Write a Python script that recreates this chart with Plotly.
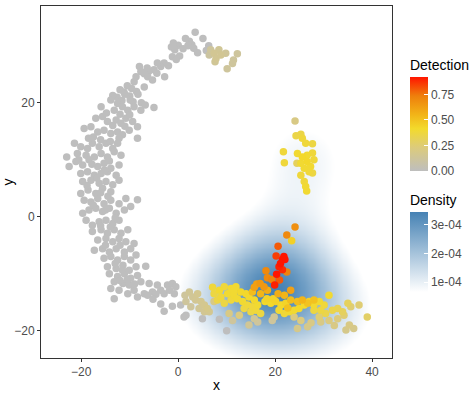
import numpy as np
import plotly.graph_objects as go

# ---------------- data ----------------
# grey arc: detection = 0 for the whole group
ARC_DETECTION = 0.0
arc_xy = [
    (3.5,32.4),(5.1,31.3),(2.3,30.8),(2.8,30.2),(3.2,29.6),(2.0,30.0),(4.0,28.8),(0.0,30.1),(-1.4,29.8),(-0.7,29.3),
    (-1.2,28.1),(0.3,28.2),(-0.4,27.6),(6.3,30.0),(5.8,29.2),
    (-2.9,27.0),(-3.6,26.4),(-4.3,27.0),(-2.8,24.6),(-5.0,25.8),(-6.1,25.5),(-6.4,26.1),(-7.0,25.1),(-8.0,26.4),
    (-7.7,25.5),(-8.7,24.6),(-9.1,23.7),(-6.3,24.6),(-5.3,24.0),
    (-9.6,22.5),(-10.5,23.0),(-8.6,22.0),(-11.2,21.9),(-12.0,22.3),(-10.0,21.2),(-8.3,21.5),(-7.6,20.0),(-12.6,21.0),
    (-11.6,20.4),(-9.3,20.2),(-13.5,21.3),(-5.0,19.2),(-6.8,19.6),
    (-15.9,19.3),(-13.9,20.5),(-12.5,19.9),(-13.2,18.7),(-11.5,19.3),(-10.4,18.7),(-9.1,19.3),(-7.7,18.7),(-17.0,17.3),
    (-15.6,17.6),(-14.6,16.7),(-12.8,17.0),(-11.8,16.4),(-10.8,17.3),(-9.4,16.7),(-8.4,15.8),(-19.4,15.5),(-18.0,15.8),
    (-16.6,14.9),(-15.3,15.2),(-13.9,14.6),(-12.5,14.9),(-11.5,14.4),(-10.1,15.2),(-8.4,13.8),(-12.2,13.8),
    (-21.4,12.9),(-20.1,12.3),(-18.7,12.0),(-17.7,12.9),(-16.3,12.3),(-14.9,12.9),(-13.5,12.0),(-12.5,12.9),(-20.8,11.1),
    (-19.0,10.8),(-17.3,10.5),(-15.9,11.1),(-14.6,10.5),(-13.2,11.4),(-11.8,10.8),(-23.0,10.5),(-22.5,8.8),(-21.1,9.7),
    (-19.7,9.1),(-18.4,10.0),(-16.6,8.8),(-15.3,9.4),(-13.9,8.5),(-12.2,9.1),
    (-20.1,7.6),(-18.7,7.9),(-17.3,7.3),(-15.9,7.6),(-14.6,7.9),(-12.8,7.3),(-19.7,6.2),(-18.0,6.4),(-16.3,5.9),(-14.9,6.2),
    (-13.5,5.6),(-12.2,6.4),(-20.1,4.1),(-18.6,4.7),(-17.0,4.1),(-15.6,5.0),(-13.9,4.4),(-8.4,3.0),
    (-19.4,2.9),(-18.0,2.6),(-16.6,3.2),(-15.3,2.3),(-13.9,2.9),(-12.2,2.3),(-10.8,3.2),(-19.7,0.6),(-18.4,1.2),(-17.0,1.5),
    (-15.6,0.9),(-14.2,1.5),(-12.8,0.6),(-11.1,1.2),(-9.8,1.8),
    (-19.0,-0.6),(-17.7,-1.5),(-16.3,-0.9),(-14.9,-0.6),(-13.5,-1.2),(-12.2,-0.6),(-17.7,-2.6),(-15.9,-2.3),(-14.6,-2.9),
    (-13.2,-2.3),(-11.8,-2.9),(-10.4,-2.3),(-16.6,-4.1),(-14.9,-3.8),(-13.5,-4.4),(-12.2,-3.8),(-10.8,-4.4),
    (-17.3,-5.9),(-15.6,-5.6),(-14.2,-6.2),(-12.8,-5.6),(-11.1,-6.2),(-9.8,-5.6),(-9.1,-4.7),(-15.3,-7.3),(-13.9,-7.0),
    (-12.5,-7.6),(-11.1,-7.0),(-9.8,-7.6),(-8.7,-6.7),(-14.6,-8.8),(-12.8,-9.1),(-11.4,-8.5),(-10.1,-9.4),(-8.7,-8.8),(-6.7,-8.7),
    (-14.2,-10.0),(-12.5,-10.5),(-11.1,-10.0),(-9.8,-10.8),(-8.4,-10.3),(-13.2,-11.4),(-11.4,-11.7),(-10.1,-12.0),(-7.7,-11.4),
    (-6.0,-11.7),(-4.3,-12.0),(-13.9,-12.6),(-12.2,-12.9),(-10.4,-13.5),(-9.1,-12.9),(-7.0,-13.5),(-5.3,-13.2),(-3.6,-12.9),
    (-2.2,-12.0),(-1.2,-11.7),(-0.5,-12.3),(-13.2,-14.4),(-8.4,-14.1),(-6.3,-13.8),(-4.6,-13.6),(-2.9,-13.5),(-0.8,-13.5),(-1.8,-12.9),
    (-3.6,-15.3),(-1.2,-15.7),(0.5,-15.5),(-2.9,-16.6),(1.2,-17.6),(1.6,-17.3),(5.0,-17.9),(8.5,-18.0),(10.0,-20.0),(-5.2,-14.5),
    (-17.5,14.0),(-16.0,13.5),(-14.0,13.2),(-18.5,13.8),(-20.5,10.0),(-17.8,9.2),(-14.2,9.8),(-16.8,6.8),(-15.2,8.2),(-18.8,5.5),
    (-16.0,4.2),(-14.5,3.6),(-17.5,2.0),(-15.0,1.2),(-13.0,-0.2),(-16.0,-1.6),(-14.0,-1.8),(-15.0,-5.0),(-12.0,-5.0),(-13.0,-8.2),
    (-11.5,-9.4),(-10.5,-11.0),(-12.0,-11.2),(-9.0,-11.8),(-14.8,18.2),(-12.0,18.0),(-10.0,17.9),(-13.5,16.0),(-11.0,15.9),
    (-9.9,20.5),(-11.0,21.5),(-7.0,22.8),(-4.4,25.2),(-2.0,26.5),(-1.0,30.5),(1.0,29.5),(1.5,31.3),
]

# (x, y, detection)
top_cluster = [
    (6.7,29.3,0.12),(7.4,28.7,0.15),(7.8,27.8,0.15),(8.8,28.4,0.15),(9.8,28.7,0.13),(11.4,27.5,0.12),
    (12.2,28.6,0.12),(10.1,26.0,0.12),(6.4,28.4,0.10),(8.4,29.3,0.14),(7.6,27.2,0.14),(11.2,26.9,0.12),
]
right_cluster = [
    (24.1,16.8,0.20),(24.3,14.2,0.35),(25.3,14.5,0.35),(25.6,13.8,0.38),(26.3,12.9,0.38),(27.7,12.8,0.36),
    (21.7,11.4,0.38),(21.9,9.5,0.38),(24.6,11.1,0.40),(25.6,10.5,0.42),(26.6,10.8,0.40),(27.7,11.2,0.38),
    (25.3,9.4,0.40),(26.6,9.7,0.42),(28.0,10.0,0.38),(26.0,8.5,0.40),(27.0,7.9,0.38),(27.7,7.7,0.36),
    (25.3,7.3,0.38),(26.0,6.2,0.38),(26.3,5.3,0.40),(26.5,4.5,0.40),(24.5,9.4,0.30),(27.3,8.8,0.40),
]
streak = [
    (24.1,-1.8,0.68),(22.4,-3.2,0.70),(23.4,-4.2,0.45),(20.6,-5.2,0.80),(20.2,-6.9,0.85),(21.5,-7.5,0.92),
    (22.0,-7.5,0.92),(21.1,-8.2,0.92),(21.5,-9.3,0.88),(22.4,-9.7,0.72),(20.3,-10.1,0.92),(19.9,-12.0,0.90),
    (18.1,-9.5,0.70),(18.4,-10.7,0.70),(19.3,-11.0,0.72),(16.9,-11.7,0.65),(16.2,-11.8,0.62),(15.7,-12.4,0.62),
    (17.7,-12.3,0.65),(23.2,-12.9,0.62),(20.9,-11.1,0.80),(21.8,-7.0,0.92),(20.8,-8.8,0.90),
]
bottom_tan = [
    (1.4,-13.8,0.12),(2.3,-13.2,0.14),(3.0,-14.1,0.14),(4.0,-13.5,0.16),(3.6,-14.6,0.15),(4.7,-14.9,0.16),
    (5.4,-15.5,0.16),(6.0,-16.1,0.18),(4.3,-16.1,0.14),(6.4,-16.7,0.16),(5.4,-16.7,0.15),(2.6,-15.8,0.12),
    (1.6,-14.9,0.12),(7.4,-14.9,0.20),(10.5,-17.0,0.20),(11.2,-18.2,0.12),(16.4,-18.5,0.12),(15.7,-17.9,0.14),
    (19.4,-18.2,0.12),(19.8,-17.6,0.14),(24.6,-19.6,0.18),(26.7,-19.3,0.18),(27.4,-18.6,0.20),(29.4,-18.5,0.20),
    (31.1,-18.2,0.22),(32.2,-19.1,0.20),(34.6,-19.9,0.18),(35.3,-19.0,0.20),(36.2,-19.6,0.18),(35.6,-15.8,0.25),
    (37.3,-15.5,0.25),(39.0,-17.6,0.28),(34.2,-17.3,0.25),(32.9,-17.9,0.22),(29.1,-17.6,0.25),(23.9,-17.6,0.22),
    (25.3,-18.2,0.22),(14.6,-19.0,0.14),(12.6,-17.3,0.22),
]
bottom_yellow = [
    (7.1,-12.4,0.38),(8.5,-12.9,0.40),(9.5,-12.3,0.38),(10.9,-12.6,0.40),(11.9,-12.3,0.40),(7.4,-13.5,0.36),
    (8.8,-14.1,0.38),(10.2,-13.5,0.40),(11.5,-13.8,0.40),(12.9,-13.2,0.42),(14.0,-13.5,0.42),(8.1,-14.6,0.35),
    (9.5,-15.2,0.36),(10.9,-14.6,0.38),(12.2,-14.4,0.40),(13.3,-14.9,0.40),(14.3,-15.5,0.38),(15.3,-15.8,0.38),
    (16.4,-15.5,0.40),(15.0,-16.7,0.36),(16.0,-16.4,0.38),(17.0,-17.0,0.36),(13.6,-16.1,0.36),(17.9,-14.9,0.42),
    (19.1,-15.2,0.42),(20.1,-14.9,0.44),(21.2,-15.5,0.42),(22.2,-15.2,0.44),(20.8,-16.4,0.40),(21.9,-17.0,0.38),
    (22.9,-16.7,0.40),(23.9,-16.4,0.40),(24.9,-16.1,0.42),(26.0,-15.5,0.42),(27.0,-14.9,0.44),(28.0,-15.5,0.40),
    (29.1,-14.9,0.40),(30.1,-15.5,0.38),(31.1,-13.8,0.40),(28.0,-16.4,0.36),(29.4,-16.4,0.36),(30.4,-17.0,0.34),
    (31.8,-16.4,0.34),(32.9,-16.1,0.32),(33.9,-16.7,0.30),(35.0,-15.2,0.30),(18.3,-14.4,0.44),(19.6,-14.4,0.44),
    (15.7,-14.6,0.42),(11.5,-12.9,0.40),(14.6,-14.1,0.42),
]
bottom_orange = [
    (21.9,-13.8,0.55),(23.2,-14.6,0.52),(24.6,-14.9,0.52),(25.6,-14.6,0.55),(26.7,-15.2,0.50),(22.6,-16.0,0.50),
    (18.4,-12.9,0.58),(17.0,-13.5,0.55),(15.3,-13.2,0.52),(28.0,-14.6,0.50),(20.6,-13.5,0.58),
]

# colour scale anchors and axis / colourbar ticks
detection_colors = [[0.0, "#BEBEBE"], [0.25, "#DCCB7C"], [0.45, "#F3DA2C"], [0.6, "#F2B418"],
                    [0.8, "#EE7F0C"], [1.0, "#FF1500"]]
density_colors = [[0.0, "#FFFFFF"], [1.0, "#4682B4"]]
DENSITY_MIN = 0.65e-4   # bottom of the Density colour bar
DENSITY_MAX = 3.45e-4   # top of the Density colour bar
DETECTION_MAX = 0.92
x_ticks = [-20, 0, 20, 40]
y_ticks = [-20, 0, 20]
det_ticks = [0.0, 0.25, 0.5, 0.75]
det_ticktext = ["0.00", "0.25", "0.50", "0.75"]
dens_ticks = [1e-4, 2e-4, 3e-4]
dens_ticktext = ["1e-04", "2e-04", "3e-04"]

# ---------------- assemble ----------------
pts = [(x, y, ARC_DETECTION) for x, y in arc_xy]
for grp in (top_cluster, right_cluster, streak, bottom_tan, bottom_yellow, bottom_orange):
    pts += grp
pts = sorted(pts, key=lambda p: p[2])
px = np.array([p[0] for p in pts])
py = np.array([p[1] for p in pts])
pdet = np.array([p[2] for p in pts])

XR = [-28.3, 44.1]
YR = [-24.8, 37.0]

# detection-weighted kernel density, rescaled to the colour-bar range of the reference
gx = np.linspace(XR[0], XR[1], 160)
gy = np.linspace(YR[0], YR[1], 140)
GX, GY = np.meshgrid(gx, gy)
sx, sy = 8.0, 6.5
dens = np.zeros_like(GX)
for xk, yk, wk in zip(px, py, pdet):
    if wk > 0:
        dens += wk * np.exp(-((GX - xk) ** 2 / (2 * sx ** 2) + (GY - yk) ** 2 / (2 * sy ** 2)))
dens = dens / dens.max() * DENSITY_MAX

font_family = "Arial, Liberation Sans, sans-serif"
plot_top, plot_bottom = 6, 358
plot_h = plot_bottom - plot_top

def py2paper(pix):
    return 1 - (pix - plot_top) / plot_h

fig = go.Figure()
fig.add_trace(go.Heatmap(
    x=gx, y=gy, z=dens, zmin=DENSITY_MIN, zmax=DENSITY_MAX, colorscale=density_colors, zsmooth="best",
    hoverinfo="skip",
    colorbar=dict(
        title=dict(text="Density", side="top", font=dict(size=14, color="black", family=font_family)),
        x=1.051, xanchor="left", xpad=0, y=py2paper(191), yanchor="top", ypad=0,
        lenmode="pixels", len=101, thickness=18, outlinewidth=0,
        tickvals=dens_ticks, ticktext=dens_ticktext, ticks="inside", tickcolor="white", ticklen=4,
        tickfont=dict(size=12, color="#4D4D4D", family=font_family),
    ),
))
fig.add_trace(go.Scatter(
    x=px, y=py, mode="markers", hoverinfo="skip",
    marker=dict(size=7.5, color=pdet, cmin=0, cmax=DETECTION_MAX, colorscale=detection_colors,
                line=dict(width=0),
                colorbar=dict(
                    title=dict(text="Detection", side="top", font=dict(size=14, color="black", family=font_family)),
                    x=1.051, xanchor="left", xpad=0, y=py2paper(56), yanchor="top", ypad=0,
                    lenmode="pixels", len=115, thickness=18, outlinewidth=0,
                    tickvals=det_ticks, ticktext=det_ticktext,
                    ticks="inside", tickcolor="white", ticklen=4,
                    tickfont=dict(size=12, color="#4D4D4D", family=font_family),
                )),
    showlegend=False,
))

axis_common = dict(showgrid=False, zeroline=False, showline=True, mirror=True, linecolor="#333333",
                   linewidth=1, ticks="outside", ticklen=3, tickcolor="#333333",
                   tickfont=dict(size=12, color="#4D4D4D", family=font_family))
fig.update_xaxes(range=XR, tickvals=x_ticks, title=dict(text="x", font=dict(size=14, color="black"), standoff=1),
                 **axis_common)
fig.update_yaxes(range=YR, tickvals=y_ticks, title=dict(text="y", font=dict(size=14, color="black"), standoff=2),
                 **axis_common)
fig.update_layout(
    width=474, height=395, autosize=False,
    margin=dict(l=41, r=82, t=6, b=37, autoexpand=False),
    plot_bgcolor="white", paper_bgcolor="white",
    font=dict(family=font_family),
    showlegend=False,
)
fig.write_html("out.html", config={"displayModeBar": False},
               post_script="document.body.style.margin='0';document.body.style.overflow='hidden';")
